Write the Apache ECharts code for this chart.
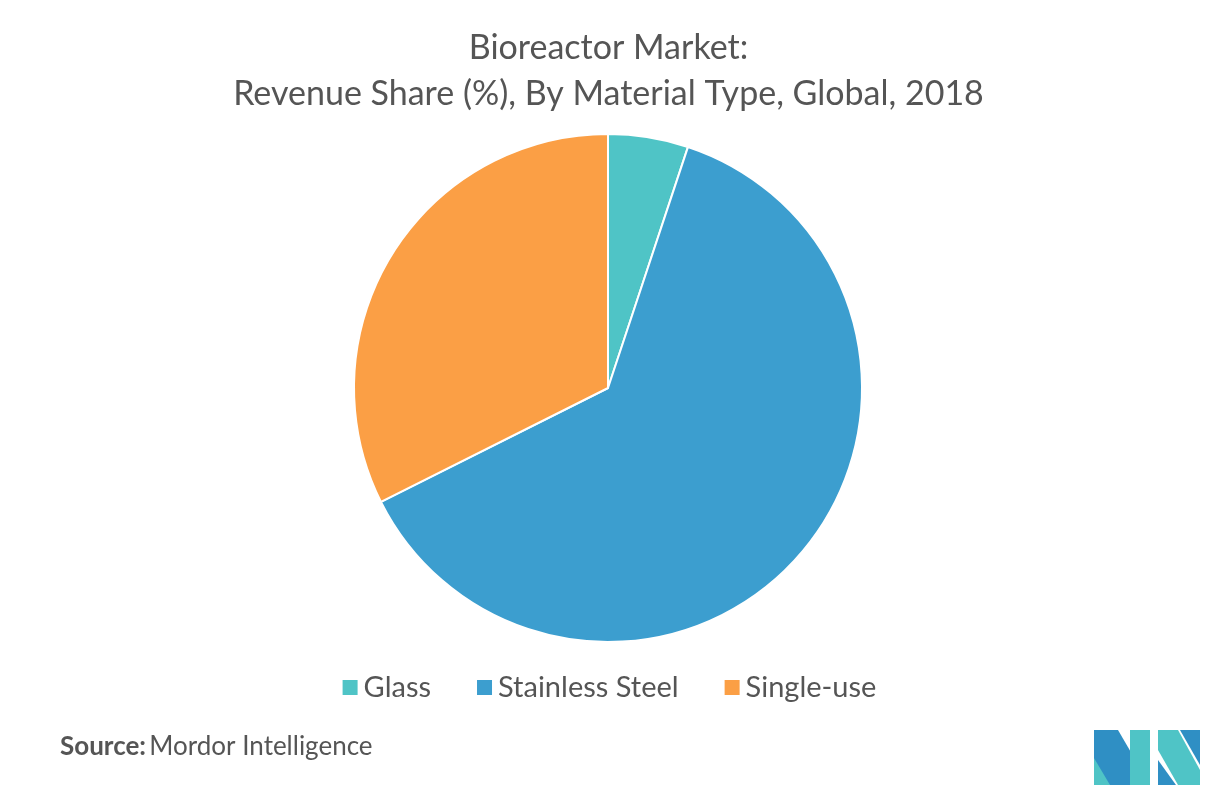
<!DOCTYPE html>
<html><head><meta charset="utf-8">
<script src="https://cdn.jsdelivr.net/npm/echarts@6/dist/echarts.min.js"></script>
<style>html,body{margin:0;background:#fff}#chart{width:1217px;height:789px}</style>
</head><body><div id="chart"></div>
<script>
const categories = ['Glass', 'Stainless Steel', 'Single-use'];
const shares = [5.1, 62.5, 32.4];
const colors = ['#4fc4c6', '#3c9ecf', '#fb9f45'];

const chart = echarts.init(document.getElementById('chart'));
chart.setOption({
  backgroundColor: '#fff',
  color: colors,
  textStyle: { fontFamily: 'Lato' },
  title: {
    text: 'Bioreactor Market:\nRevenue Share (%), By Material Type, Global, 2018',
    left: 'center', top: 20,
    textStyle: { color: '#555', fontSize: 34, fontWeight: 'normal', lineHeight: 46, fontFamily: 'Lato' }
  },
  legend: {
    bottom: 82, left: 'center', itemWidth: 17, itemHeight: 17, itemGap: 44,
    icon: 'rect', textStyle: { color: '#555', fontSize: 29, fontFamily: 'Lato' },
    data: categories
  },
  series: [{
    type: 'pie', center: [608, 388], radius: 254, startAngle: 90, clockwise: true,
    label: { show: false }, labelLine: { show: false }, silent: true,
    itemStyle: { borderColor: '#fff', borderWidth: 2 },
    data: categories.map((c, i) => ({ name: c, value: shares[i] }))
  }],
  graphic: [
    { type: 'text', left: 60, top: 734,
      style: { rich: { b: { fontWeight: 'bold', fontSize: 26, fill: '#555', fontFamily: 'Lato' },
                       n: { fontSize: 26, fill: '#555', fontFamily: 'Lato' } },
               text: '{b|Source:} {n|Mordor Intelligence}' } },
    { type: 'polygon', shape: { points: [[1094,730],[1118,730],[1150,785],[1094,785]] }, style: { fill: '#2f8fc4' } },
    { type: 'polygon', shape: { points: [[1094,758],[1110,785],[1094,785]] }, style: { fill: '#4fc4c6' } },
    { type: 'polygon', shape: { points: [[1130,730],[1150,730],[1150,785],[1130,785]] }, style: { fill: '#4fc4c6' } },
    { type: 'polygon', shape: { points: [[1158,730],[1178,730],[1200,770],[1200,785],[1178,785],[1158,750]] }, style: { fill: '#4fc4c6' } },
    { type: 'polygon', shape: { points: [[1180,730],[1200,730],[1200,765]] }, style: { fill: '#2f8fc4' } },
    { type: 'polygon', shape: { points: [[1158,760],[1176,785],[1158,785]] }, style: { fill: '#2f8fc4' } }
  ]
});
</script></body></html>
